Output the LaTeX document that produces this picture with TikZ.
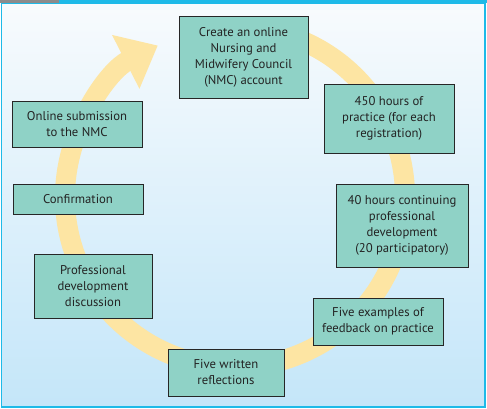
\documentclass[tikz,border=0pt]{standalone}
\usepackage{fontspec}
\setmainfont{PT Sans}
\usetikzlibrary{arrows.meta,positioning,shadows,calc}
\definecolor{bandyellow}{RGB}{253,229,163}
\definecolor{boxteal}{RGB}{143,210,198}
\definecolor{framecyan}{RGB}{30,186,232}
\definecolor{textgray}{RGB}{35,35,35}
\begin{document}
\begin{tikzpicture}[x=1pt, y=1pt, font=\fontsize{12.7}{16}\selectfont, text=textgray,
  box/.style={draw=black!85, line width=0.9pt, fill=boxteal, align=center, inner sep=2pt,
    drop shadow={opacity=0.25, shadow xshift=1.2pt, shadow yshift=-1.2pt}},
  band/.style={line width=20pt, draw=bandyellow, -{Triangle[width=58pt, length=36pt]}}]
\useasboundingbox (0,0) rectangle (487,409);
\fill[white] (0,0) rectangle (487,409);
\shade[top color={rgb,255:red,248;green,251;blue,253}, bottom color={rgb,255:red,196;green,230;blue,249}] (1.5,2) rectangle (485,406);
\draw[framecyan, line width=1.5pt] (1.5,2) rectangle (485,406);
\fill[gray!90] (0,406) rectangle (59,409);
\fill[framecyan] (59,406) rectangle (487,409);
% cycle arrow
\coordinate (start) at ($(235,212)+(80:170)$);
\draw[band] (start) arc[start angle=80, end angle=-243, radius=170];
% steps
\node[box, minimum width=129pt, minimum height=82pt] (account) at (243.5,352) {Create an online\\Nursing and\\Midwifery Council\\(NMC) account};
\node[box, minimum width=130pt, minimum height=69pt] (practice) at (389,290.5) {450 hours of\\practice (for each\\registration)};
\node[box, minimum width=132pt, minimum height=83pt] (cpd) at (402,183.5) {40 hours continuing\\professional\\development\\(20 participatory)};
\node[box, minimum width=130pt, minimum height=47pt] (feedback) at (378,87.5) {Five examples of\\feedback on practice};
\node[box, minimum width=116pt, minimum height=47pt] (reflections) at (226,36.5) {Five written\\reflections};
\node[box, minimum width=118pt, minimum height=64pt] (discussion) at (93,123) {Professional\\development\\discussion};
\node[box, minimum width=130pt, minimum height=30pt] (confirm) at (78,210) {Confirmation};
\node[box, minimum width=130pt, minimum height=46pt] (submit) at (77,285) {Online submission\\to the NMC};
\end{tikzpicture}
\end{document}
